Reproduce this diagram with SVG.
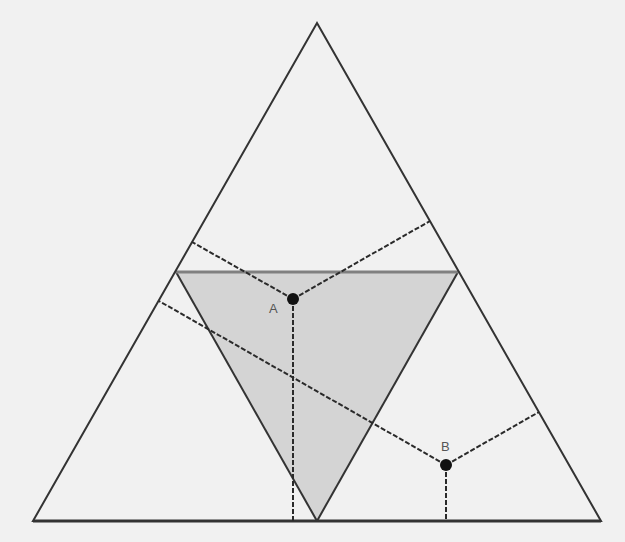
<svg xmlns="http://www.w3.org/2000/svg" width="625" height="542" viewBox="0 0 625 542">
<style>
.edge{stroke:#333;stroke-width:2;fill:none}
.dash{stroke:#2a2a2a;stroke-width:2;fill:none;stroke-dasharray:5 2}
.lbl{font-family:"Liberation Sans",Arial,sans-serif;font-size:13px;fill:#555}
.pt{fill:#111}
</style>
<rect width="625" height="542" fill="#f1f1f1"/>
<g id="inner-triangle">
<polygon points="176,272 458,272 317,521" fill="#d4d4d4" stroke="none"/>
<line x1="176" y1="272" x2="317" y2="521" class="edge" stroke-width="2"/>
<line x1="458" y1="272" x2="317" y2="521" class="edge"/>
<line x1="176" y1="272" x2="458" y2="272" stroke="#808080" stroke-width="3"/>
</g>
<g id="outer-triangle">
<polygon points="317,23 601,521 33,521" class="edge"/>
<line x1="33" y1="521" x2="601" y2="521" stroke="#333" stroke-width="3"/>
</g>
<g id="connectors">
<line x1="293" y1="299" x2="192" y2="242" class="dash"/>
<line x1="293" y1="299" x2="430" y2="221" class="dash"/>
<line x1="293" y1="299" x2="293" y2="521" class="dash"/>
<line x1="446" y1="465" x2="159" y2="301" class="dash"/>
<line x1="446" y1="465" x2="539" y2="412" class="dash"/>
<line x1="446" y1="465" x2="446" y2="521" class="dash"/>
</g>
<g id="point-A">
<circle cx="293" cy="299" r="6" class="pt"/>
<text x="269" y="313" class="lbl">A</text>
</g>
<g id="point-B">
<circle cx="446" cy="465" r="6" class="pt"/>
<text x="441" y="451" class="lbl">B</text>
</g>
</svg>
